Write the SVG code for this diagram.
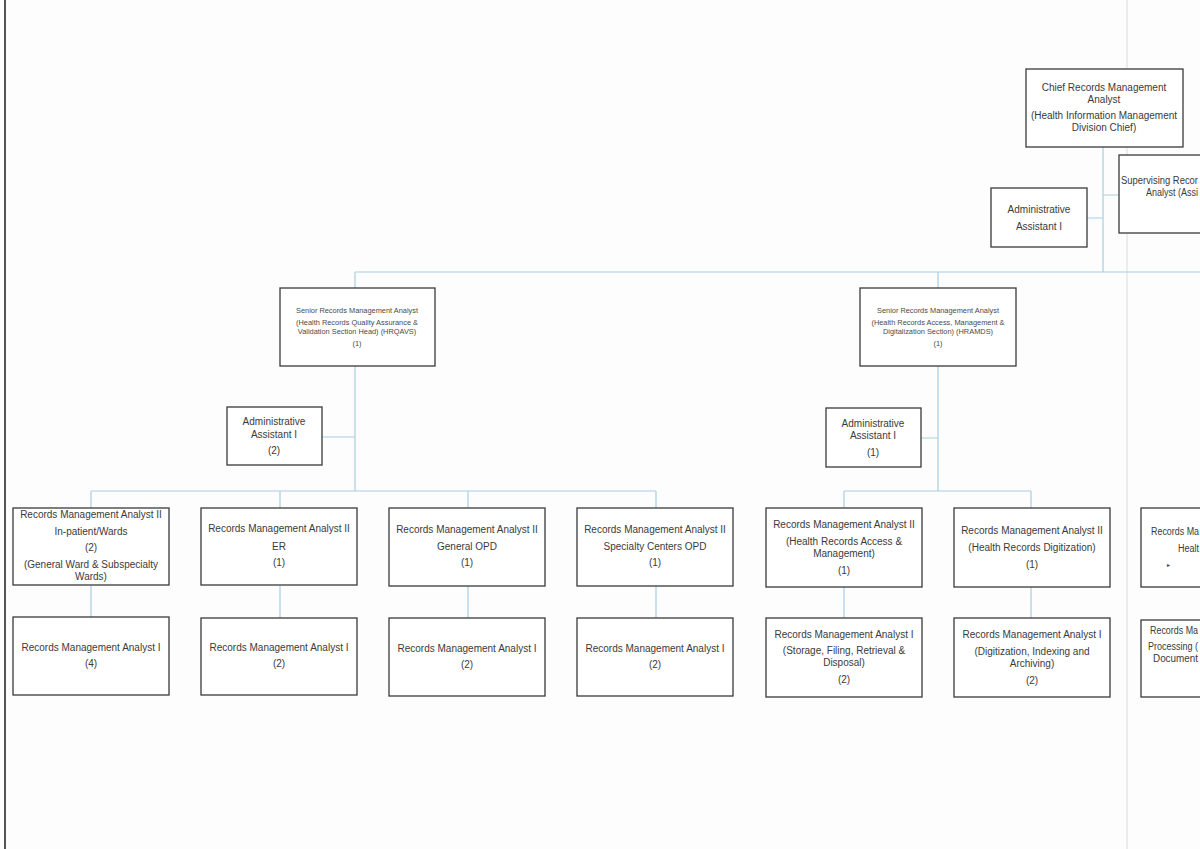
<svg xmlns="http://www.w3.org/2000/svg" width="1200" height="849" viewBox="0 0 1200 849">
<style>
.bx{fill:#fff;stroke:#3a3a3a;stroke-width:1.3}
.t{font-family:"Liberation Sans",Arial,sans-serif;font-size:10px;fill:#3a3a3a;text-anchor:middle}
.s{font-family:"Liberation Sans",Arial,sans-serif;font-size:7.4px;fill:#4a4a4a;text-anchor:middle}
.l{font-family:"Liberation Sans",Arial,sans-serif;font-size:10px;fill:#3a3a3a}
.c{fill:none;stroke:#a9cfe3;stroke-width:1.2}
</style>
<rect x="0" y="0" width="1200" height="849" fill="#fdfdfd"/>
<line x1="5" y1="0" x2="5" y2="849" stroke="#555" stroke-width="2"/>
<line x1="1127" y1="0" x2="1127" y2="849" stroke="#dcdcdc" stroke-width="1"/>
<g id="connectors">
<path class="c" d="M1103 147V272M1087 218H1103M1103 195H1119"/>
<path class="c" d="M355 272H1200M355 272V288M938 272V288"/>
<path class="c" d="M355 366V491M322 437H355M938 366V491M921 438H938"/>
<path class="c" d="M91 491H656M91 491V508M280 491V508M468 491V508M656 491V508"/>
<path class="c" d="M844 491H1031M844 491V508M1031 491V508"/>
<path class="c" d="M91 586V618M280 586V618M468 586V618M656 586V618M844 587V618M1031 587V620"/>
</g>
<g id="chief">
<rect class="bx" x="1026" y="69" width="157" height="78"/>
<text class="t" x="1104" y="91">Chief Records Management</text>
<text class="t" x="1104" y="103">Analyst</text>
<text class="t" x="1104" y="119">(Health Information Management</text>
<text class="t" x="1104" y="131">Division Chief)</text>
</g>
<g id="admin-top">
<rect class="bx" x="991" y="188" width="96" height="59"/>
<text class="t" x="1039" y="213">Administrative</text>
<text class="t" x="1039" y="230">Assistant I</text>
</g>
<g id="supervising">
<rect class="bx" x="1119" y="155" width="100" height="78"/>
<text class="l" x="1121" y="184" textLength="77" lengthAdjust="spacingAndGlyphs">Supervising Recor</text>
<text class="l" x="1146" y="196" textLength="52" lengthAdjust="spacingAndGlyphs">Analyst (Assi</text>
</g>
<g id="senior1">
<rect class="bx" x="280" y="288" width="155" height="78"/>
<text class="s" x="357" y="313">Senior Records Management Analyst</text>
<text class="s" x="357" y="325">(Health Records Quality Assurance &amp;</text>
<text class="s" x="357" y="334">Validation Section Head) (HRQAVS)</text>
<text class="s" x="357" y="346">(1)</text>
</g>
<g id="senior2">
<rect class="bx" x="860" y="288" width="156" height="78"/>
<text class="s" x="938" y="313">Senior Records Management Analyst</text>
<text class="s" x="938" y="325">(Health Records Access, Management &amp;</text>
<text class="s" x="938" y="334">Digitalization Section) (HRAMDS)</text>
<text class="s" x="938" y="346">(1)</text>
</g>
<g id="admin1">
<rect class="bx" x="227" y="407" width="95" height="58"/>
<text class="t" x="274" y="425">Administrative</text>
<text class="t" x="274" y="438">Assistant I</text>
<text class="t" x="274" y="454">(2)</text>
</g>
<g id="admin2">
<rect class="bx" x="826" y="408" width="95" height="59"/>
<text class="t" x="873" y="427">Administrative</text>
<text class="t" x="873" y="439">Assistant I</text>
<text class="t" x="873" y="456">(1)</text>
</g>
<g id="rma2-inpatient">
<rect class="bx" x="13" y="508" width="156" height="77"/>
<text class="t" x="91" y="518">Records Management Analyst II</text>
<text class="t" x="91" y="535">In-patient/Wards</text>
<text class="t" x="91" y="551">(2)</text>
<text class="t" x="91" y="568">(General Ward &amp; Subspecialty</text>
<text class="t" x="91" y="580">Wards)</text>
</g>
<g id="rma2-er">
<rect class="bx" x="201" y="508" width="156" height="77"/>
<text class="t" x="279" y="532">Records Management Analyst II</text>
<text class="t" x="279" y="550">ER</text>
<text class="t" x="279" y="566">(1)</text>
</g>
<g id="rma2-gopd">
<rect class="bx" x="389" y="508" width="156" height="78"/>
<text class="t" x="467" y="533">Records Management Analyst II</text>
<text class="t" x="467" y="550">General OPD</text>
<text class="t" x="467" y="566">(1)</text>
</g>
<g id="rma2-sopd">
<rect class="bx" x="577" y="508" width="156" height="78"/>
<text class="t" x="655" y="533">Records Management Analyst II</text>
<text class="t" x="655" y="550">Specialty Centers OPD</text>
<text class="t" x="655" y="566">(1)</text>
</g>
<g id="rma2-access">
<rect class="bx" x="766" y="508" width="156" height="79"/>
<text class="t" x="844" y="528">Records Management Analyst II</text>
<text class="t" x="844" y="545">(Health Records Access &amp;</text>
<text class="t" x="844" y="557">Management)</text>
<text class="t" x="844" y="574">(1)</text>
</g>
<g id="rma2-digit">
<rect class="bx" x="954" y="508" width="156" height="79"/>
<text class="t" x="1032" y="534">Records Management Analyst II</text>
<text class="t" x="1032" y="551">(Health Records Digitization)</text>
<text class="t" x="1032" y="568">(1)</text>
</g>
<g id="rma2-right">
<rect class="bx" x="1141" y="508" width="100" height="79"/>
<text class="l" x="1151" y="535" textLength="48" lengthAdjust="spacingAndGlyphs">Records Ma</text>
<text class="l" x="1178" y="552" textLength="21" lengthAdjust="spacingAndGlyphs">Healt</text>
<text class="l" x="1167" y="567" style="font-size:6px">▸</text>
</g>
<g id="rma1-inpatient">
<rect class="bx" x="13" y="617" width="156" height="78"/>
<text class="t" x="91" y="651">Records Management Analyst I</text>
<text class="t" x="91" y="667">(4)</text>
</g>
<g id="rma1-er">
<rect class="bx" x="201" y="618" width="156" height="77"/>
<text class="t" x="279" y="651">Records Management Analyst I</text>
<text class="t" x="279" y="667">(2)</text>
</g>
<g id="rma1-gopd">
<rect class="bx" x="389" y="618" width="156" height="78"/>
<text class="t" x="467" y="652">Records Management Analyst I</text>
<text class="t" x="467" y="668">(2)</text>
</g>
<g id="rma1-sopd">
<rect class="bx" x="577" y="618" width="156" height="78"/>
<text class="t" x="655" y="652">Records Management Analyst I</text>
<text class="t" x="655" y="668">(2)</text>
</g>
<g id="rma1-storage">
<rect class="bx" x="766" y="618" width="156" height="79"/>
<text class="t" x="844" y="638">Records Management Analyst I</text>
<text class="t" x="844" y="654">(Storage, Filing, Retrieval &amp;</text>
<text class="t" x="844" y="666">Disposal)</text>
<text class="t" x="844" y="683">(2)</text>
</g>
<g id="rma1-digit">
<rect class="bx" x="954" y="618" width="156" height="79"/>
<text class="t" x="1032" y="638">Records Management Analyst I</text>
<text class="t" x="1032" y="655">(Digitization, Indexing and</text>
<text class="t" x="1032" y="667">Archiving)</text>
<text class="t" x="1032" y="684">(2)</text>
</g>
<g id="rma1-right">
<rect class="bx" x="1141" y="620" width="100" height="77"/>
<text class="l" x="1150" y="634" textLength="48" lengthAdjust="spacingAndGlyphs">Records Ma</text>
<text class="l" x="1148" y="650" textLength="50" lengthAdjust="spacingAndGlyphs">Processing (</text>
<text class="l" x="1153" y="662" textLength="45" lengthAdjust="spacingAndGlyphs">Document</text>
</g>
</svg>
